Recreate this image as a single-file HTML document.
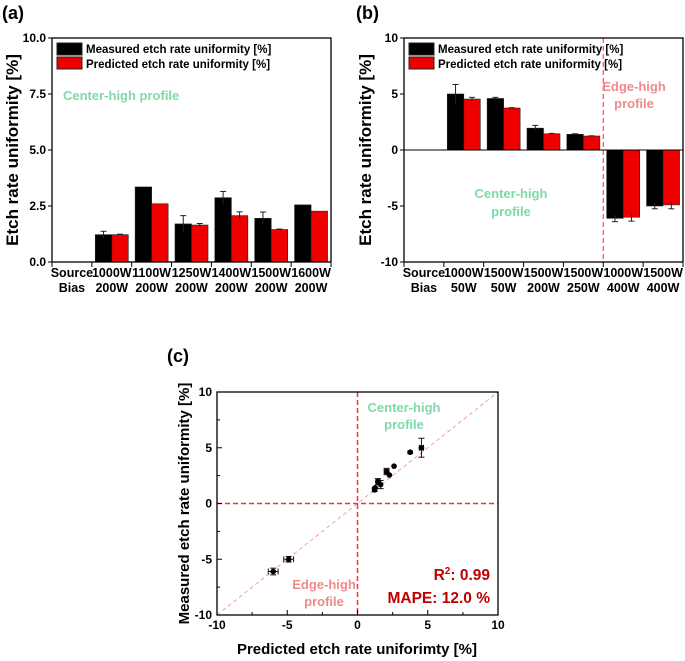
<!DOCTYPE html>
<html><head><meta charset="utf-8"><style>
body{margin:0;background:#fff;}
svg{display:block;font-family:"Liberation Sans",Arial,sans-serif;font-weight:bold;}
</style></head><body>
<svg id="fig" width="685" height="661" viewBox="0 0 685 661" xmlns="http://www.w3.org/2000/svg"></svg>
<script>
// Panel (a) data
const catsA1 = ["Source","1000W","1100W","1250W","1400W","1500W","1600W"];
const catsA2 = ["Bias","200W","200W","200W","200W","200W","200W"];
const measA = [1.22, 3.35, 1.70, 2.87, 1.95, 2.55];
const measErrA = [0.15, 0, 0.37, 0.28, 0.28, 0];
const predA = [1.22, 2.60, 1.65, 2.07, 1.45, 2.27];
const predErrA = [0.02, 0, 0.07, 0.17, 0.02, 0];
const ticksA = [0, 2.5, 5.0, 7.5, 10.0];
const tickLabelsA = ["0.0","2.5","5.0","7.5","10.0"];
// Panel (b) data
const catsB1 = ["Source","1000W","1500W","1500W","1500W","1000W","1500W"];
const catsB2 = ["Bias","50W","50W","200W","250W","400W","400W"];
const measB = [5.0, 4.6, 1.95, 1.40, -6.1, -5.0];
const measErrB = [0.85, 0.1, 0.25, 0.05, 0.3, 0.25];
const predB = [4.55, 3.75, 1.45, 1.25, -6.0, -4.9];
const predErrB = [0.15, 0.03, 0.03, 0.02, 0.35, 0.35];
const ticksB = [-10, -5, 0, 5, 10];
// Panel (c) data
const scatterPred = [1.22, 2.60, 1.65, 2.07, 1.45, 2.27, 4.55, 3.75, 1.45, 1.25, -6.0, -4.9];
const scatterMeas = [1.22, 3.35, 1.70, 2.87, 1.95, 2.55, 5.0, 4.6, 1.95, 1.40, -6.1, -5.0];
const scatterMeasErr = [0.15, 0, 0.37, 0.28, 0.28, 0, 0.85, 0.1, 0.25, 0.05, 0.3, 0.25];
const scatterPredErr = [0.02, 0, 0.07, 0.17, 0.02, 0, 0.15, 0.03, 0.03, 0.02, 0.35, 0.35];
const ticksC = [-10, -5, 0, 5, 10];

const NS = "http://www.w3.org/2000/svg";
const svg = document.getElementById("fig");
function mk(tag, attrs, parent, text){
  const e = document.createElementNS(NS, tag);
  for (const k in attrs) e.setAttribute(k, attrs[k]);
  if (text !== undefined) e.textContent = text;
  (parent||svg).appendChild(e);
  return e;
}
function grp(name){
  const g = mk("g", {});
  
  
  return g;
}

function barPanel(o){
  const g = grp(o.name);
  const L=o.x0, R=o.x1, T=o.y0, B=o.y1;
  const ys = v => B - (v - o.ymin)/(o.ymax - o.ymin)*(B-T);
  const n = o.c1.length, cw = (R-L)/n;
  const xc = i => L + cw*(i+0.5);
  for (let i=0;i<o.meas.length;i++){
    const c = xc(i+1), bw = 16.5;
    [[o.meas[i],o.me[i],c-bw,"#000","measured-bar"],[o.pred[i],o.pe[i],c,"#ee0000","predicted-bar"]].forEach(([v,e,x,col,nm])=>{
      const y0=ys(0), y1=ys(v);
      const r = mk("rect",{x:x,y:Math.min(y0,y1),width:bw,height:Math.abs(y1-y0),fill:col,stroke:"#222","stroke-width":0.6},g);
      
      
      if (e>0){
        const ex=x+bw/2, sgn = v>=0?1:-1;
        const yt=ys(v+sgn*e), yb=ys(v-sgn*e);
        mk("line",{x1:ex,x2:ex,y1:yt,y2:yb,stroke:"#222","stroke-width":1},g);
        mk("line",{x1:ex-3,x2:ex+3,y1:yt,y2:yt,stroke:"#222","stroke-width":1},g);
      }
    });
  }
  if (o.vline){ mk("line",{x1:L+cw*o.vline,x2:L+cw*o.vline,y1:T,y2:B,stroke:"#ff5a5a","stroke-width":1.3,"stroke-dasharray":"5,3"},g); }
  if (o.zero){ mk("line",{x1:L,x2:R,y1:ys(0),y2:ys(0),stroke:"#000","stroke-width":1},g); }
  mk("rect",{x:L,y:T,width:R-L,height:B-T,fill:"none",stroke:"#000","stroke-width":1.3},g);
  o.ticks.forEach((t,i)=>{
    mk("line",{x1:L-4,x2:L,y1:ys(t),y2:ys(t),stroke:"#000"},g);
    mk("text",{x:L-6,y:ys(t)+4,"text-anchor":"end","font-size":12},g,o.tl[i]);
  });
  for (let i=0;i<=n;i++){ mk("line",{x1:L+cw*i,x2:L+cw*i,y1:B,y2:B+5,stroke:"#000"},g); }
  for (let i=0;i<n;i++){
    mk("text",{x:xc(i),y:B+15,"text-anchor":"middle","font-size":12.5},g,o.c1[i]);
    mk("text",{x:xc(i),y:B+30,"text-anchor":"middle","font-size":12.5},g,o.c2[i]);
  }
  const lg = mk("g",{},g);
  
  
  mk("rect",{x:L+5,y:T+5,width:25,height:12,fill:"#000",stroke:"#222"},lg);
  mk("text",{x:L+34,y:T+15,"font-size":11.5},lg,"Measured etch rate uniformity [%]");
  mk("rect",{x:L+5,y:T+19,width:25,height:12,fill:"#ee0000",stroke:"#222"},lg);
  mk("text",{x:L+34,y:T+30,"font-size":11.5},lg,"Predicted etch rate uniformity [%]");
  const yt = mk("text",{x:0,y:0,"text-anchor":"middle","font-size":17,transform:`translate(${o.ytx},${(T+B)/2}) rotate(-90)`},g,"Etch rate uniformity [%]");
  
  
  return {g, ys, xc, cw};
}

const la = mk("text",{x:2,y:19,"font-size":18},svg,"(a)");
 
const pa = barPanel({name:"panel-a",x0:52,x1:331,y0:38,y1:262,ymin:0,ymax:10,c1:catsA1,c2:catsA2,meas:measA,me:measErrA,pred:predA,pe:predErrA,ticks:ticksA,tl:tickLabelsA,ytx:18});
mk("text",{x:63,y:100,"font-size":13,fill:"#7fd9a8"},pa.g,"Center-high profile");

const lb = mk("text",{x:356,y:19,"font-size":18},svg,"(b)");
 
const pb = barPanel({name:"panel-b",x0:404,x1:683,y0:38,y1:262,ymin:-10,ymax:10,c1:catsB1,c2:catsB2,meas:measB,me:measErrB,pred:predB,pe:predErrB,ticks:ticksB,tl:ticksB.map(String),ytx:371,zero:true,vline:5});
mk("text",{x:634,y:91,"text-anchor":"middle","font-size":13,fill:"#f08a8a"},pb.g,"Edge-high");
mk("text",{x:634,y:108,"text-anchor":"middle","font-size":13,fill:"#f08a8a"},pb.g,"profile");
mk("text",{x:511,y:198,"text-anchor":"middle","font-size":13,fill:"#7fd9a8"},pb.g,"Center-high");
mk("text",{x:511,y:216,"text-anchor":"middle","font-size":13,fill:"#7fd9a8"},pb.g,"profile");

const lc = mk("text",{x:167,y:362,"font-size":18},svg,"(c)");
 
(function(){
  const g = grp("panel-c");
  const L=217,R=498,T=392,B=615;
  const xs = v => L + (v+10)/20*(R-L);
  const ys = v => B - (v+10)/20*(B-T);
  mk("line",{x1:xs(-10),y1:ys(-10),x2:xs(10),y2:ys(10),stroke:"#f4a0a0","stroke-width":1,"stroke-dasharray":"4,3"},g);
  mk("line",{x1:xs(0),x2:xs(0),y1:T,y2:B,stroke:"#ff3030","stroke-width":1.5,"stroke-dasharray":"5,3"},g);
  mk("line",{x1:L,x2:R,y1:ys(0),y2:ys(0),stroke:"#ff3030","stroke-width":1.5,"stroke-dasharray":"5,3"},g);
  mk("rect",{x:L,y:T,width:R-L,height:B-T,fill:"none",stroke:"#000","stroke-width":1.3},g);
  ticksC.forEach(t=>{
    mk("line",{x1:xs(t),x2:xs(t),y1:B,y2:B-5,stroke:"#000"},g);
    mk("line",{x1:L,x2:L+5,y1:ys(t),y2:ys(t),stroke:"#000"},g);
    mk("text",{x:xs(t),y:B+14,"text-anchor":"middle","font-size":12},g,String(t));
    mk("text",{x:L-5,y:ys(t)+4,"text-anchor":"end","font-size":12},g,String(t));
  });
  for (let t=-7.5;t<10;t+=5){
    mk("line",{x1:xs(t),x2:xs(t),y1:B,y2:B-3,stroke:"#000"},g);
    mk("line",{x1:L,x2:L+3,y1:ys(t),y2:ys(t),stroke:"#000"},g);
  }
  for (let i=0;i<scatterPred.length;i++){
    const x=xs(scatterPred[i]), y=ys(scatterMeas[i]);
    const ye=scatterMeasErr[i], xe=scatterPredErr[i];
    if (ye>0){
      const a=ys(scatterMeas[i]+ye), b=ys(scatterMeas[i]-ye);
      mk("line",{x1:x,x2:x,y1:a,y2:b,stroke:"#111"},g);
      mk("line",{x1:x-3,x2:x+3,y1:a,y2:a,stroke:"#111"},g);
      mk("line",{x1:x-3,x2:x+3,y1:b,y2:b,stroke:"#111"},g);
    }
    if (xe>0.1){
      const a=xs(scatterPred[i]-xe), b=xs(scatterPred[i]+xe);
      mk("line",{x1:a,x2:b,y1:y,y2:y,stroke:"#111"},g);
      mk("line",{x1:a,x2:a,y1:y-3,y2:y+3,stroke:"#111"},g);
      mk("line",{x1:b,x2:b,y1:y-3,y2:y+3,stroke:"#111"},g);
    }
    const p = mk("circle",{cx:x,cy:y,r:2.8,fill:"#000"},g);
    
    
  }
  mk("text",{x:404,y:412,"text-anchor":"middle","font-size":13,fill:"#7fd9a8"},g,"Center-high");
  mk("text",{x:404,y:429,"text-anchor":"middle","font-size":13,fill:"#7fd9a8"},g,"profile");
  mk("text",{x:324,y:589,"text-anchor":"middle","font-size":13,fill:"#f08a8a"},g,"Edge-high");
  mk("text",{x:324,y:606,"text-anchor":"middle","font-size":13,fill:"#f08a8a"},g,"profile");
  const r2 = mk("text",{x:490,y:580,"text-anchor":"end","font-size":15.5,fill:"#c00000"},g);
  mk("tspan",{},r2,"R");
  mk("tspan",{dy:-6,"font-size":10},r2,"2");
  mk("tspan",{dy:6},r2,": 0.99");
   
  const mp = mk("text",{x:490,y:603,"text-anchor":"end","font-size":15.5,fill:"#c00000"},g,"MAPE: 12.0 %");
   
  const yt = mk("text",{x:0,y:0,"text-anchor":"middle","font-size":15,transform:`translate(189,${(T+B)/2}) rotate(-90)`},g,"Measured etch rate uniformity [%]");
   
  const xt = mk("text",{x:357,y:654,"text-anchor":"middle","font-size":15},g,"Predicted etch rate uniforimty [%]");
   
})();
</script>
</body></html>
